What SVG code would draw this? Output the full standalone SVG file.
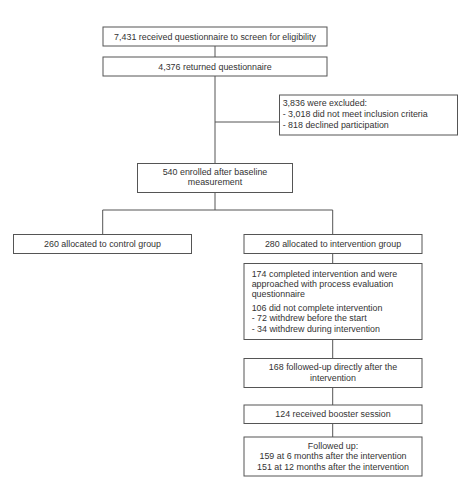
<svg xmlns="http://www.w3.org/2000/svg" width="474" height="501" viewBox="0 0 474 501">
<style>
.box{fill:#fff;stroke:#555;stroke-width:1}
.c{stroke:#555;stroke-width:1;fill:none}
text{font-family:"Liberation Sans",Arial,sans-serif;font-size:8.9px;fill:#333}
.m{text-anchor:middle}
</style>
<rect width="474" height="501" fill="#fff"/>
<g id="connectors">
<path class="c" d="M215 46V57M215 76V163M215 122H279M215 192V210M102.7 210H332.7M102.7 210V234M332.7 210V234M332.7 253V263M332.7 339V358M332.7 387V405M332.7 423V437"/>
</g>
<g id="n1"><rect class="box" x="103" y="27" width="224" height="19"/><text class="m" x="215" y="40">7,431 received questionnaire to screen for eligibility</text></g>
<g id="n2"><rect class="box" x="103" y="57" width="224" height="19"/><text class="m" x="215" y="69.5">4,376 returned questionnaire</text></g>
<g id="excl"><rect class="box" x="279.5" y="95" width="178" height="40"/>
<text x="282.7" y="105.7">3,836 were excluded:</text>
<text x="282.7" y="117">-  3,018 did not meet inclusion criteria</text>
<text x="282.7" y="127.5">-  818 declined participation</text></g>
<g id="n540"><rect class="box" x="137.5" y="163.5" width="155" height="29"/>
<text class="m" x="215" y="175">540 enrolled after baseline</text>
<text class="m" x="215" y="185">measurement</text></g>
<g id="ctrl"><rect class="box" x="13.5" y="234.5" width="178" height="19"/><text class="m" x="102.5" y="246.8">260 allocated to control group</text></g>
<g id="intv"><rect class="box" x="244" y="234.5" width="178" height="19"/><text class="m" x="333" y="246.8">280 allocated to intervention group</text></g>
<g id="n174"><rect class="box" x="244" y="263.5" width="178" height="76"/>
<text x="251.7" y="276.7">174 completed intervention and were</text>
<text x="251.7" y="286.7">approached with process evaluation</text>
<text x="251.7" y="296.7">questionnaire</text>
<text x="251.7" y="311">106 did not complete intervention</text>
<text x="251.7" y="321.2">- 72 withdrew before the start</text>
<text x="251.7" y="331.5">- 34 withdrew during intervention</text></g>
<g id="n168"><rect class="box" x="244" y="358.5" width="178" height="29"/>
<text class="m" x="333" y="370">168 followed-up directly after the</text>
<text class="m" x="333" y="380.5">intervention</text></g>
<g id="n124"><rect class="box" x="244" y="405" width="178" height="18.5"/>
<text class="m" x="333" y="416.5">124 received booster session</text></g>
<g id="nfu"><rect class="box" x="244" y="437" width="178" height="39"/>
<text class="m" x="333" y="449">Followed up:</text>
<text class="m" x="333" y="459.3">159 at 6 months after the intervention</text>
<text class="m" x="333" y="469.5">151 at 12 months after the intervention</text></g>
</svg>
